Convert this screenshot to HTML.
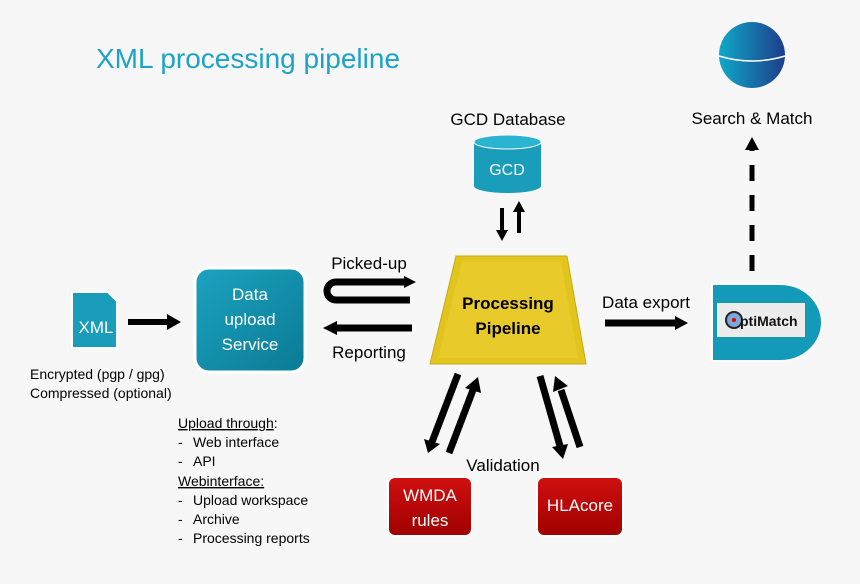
<!DOCTYPE html>
<html><head><style>
html,body{margin:0;padding:0;background:#f7f7f7;}
svg{display:block;font-family:"Liberation Sans",sans-serif;}
</style></head><body>
<svg width="860" height="584" viewBox="0 0 860 584">
<defs>
<linearGradient id="teal" x1="0" y1="0" x2="1" y2="1"><stop offset="0" stop-color="#1ba3c0"/><stop offset="1" stop-color="#0b7a94"/></linearGradient>
<linearGradient id="sph" x1="0" y1="0" x2="1" y2="0"><stop offset="0" stop-color="#10a8c8"/><stop offset="1" stop-color="#1e3d8a"/></linearGradient>
<linearGradient id="red" x1="0" y1="0" x2="0" y2="1"><stop offset="0" stop-color="#d01010"/><stop offset="1" stop-color="#a00000"/></linearGradient>
</defs>
<rect width="860" height="584" fill="#f7f7f7"/>
<text x="96" y="68" font-size="28" fill="#1ea3c6">XML processing pipeline</text>

<!-- GCD -->
<text x="508" y="125" font-size="17" text-anchor="middle">GCD Database</text>
<path d="M474,142 v44 a33.5,7 0 0 0 67,0 v-44" fill="#1a9cbb"/>
<ellipse cx="507.5" cy="142" rx="33.5" ry="7" fill="#2bb3d2" stroke="#fff" stroke-width="1"/>
<text x="507" y="175" font-size="16" fill="#fff" text-anchor="middle">GCD</text>
<line x1="502" y1="208" x2="502" y2="232" stroke="#000" stroke-width="4"/>
<path d="M496,230 l6,11 l6,-11 z" fill="#000"/>
<line x1="519" y1="233" x2="519" y2="210" stroke="#000" stroke-width="4"/>
<path d="M513,212 l6,-11 l6,11 z" fill="#000"/>

<!-- XML doc -->
<path d="M72,292 h36 l9,9 v47 h-45 z" fill="#1a9cbb" stroke="#fff" stroke-width="2"/>
<text x="96" y="333" font-size="17" fill="#fff" text-anchor="middle">XML</text>
<text x="30" y="379" font-size="14">Encrypted (pgp / gpg)</text>
<text x="30" y="398" font-size="14">Compressed (optional)</text>
<line x1="128" y1="322" x2="168" y2="322" stroke="#000" stroke-width="6"/>
<path d="M167,314 l14,8 l-14,8 z" fill="#000"/>

<!-- Data upload -->
<rect x="195" y="268" width="110" height="104" rx="14" fill="url(#teal)" stroke="#fff" stroke-width="3"/>
<text x="250" y="300" font-size="17" fill="#fff" text-anchor="middle">Data</text>
<text x="250" y="325" font-size="17" fill="#fff" text-anchor="middle">upload</text>
<text x="250" y="350" font-size="17" fill="#fff" text-anchor="middle">Service</text>

<!-- notes -->
<g font-size="14">
<text x="178" y="428"><tspan text-decoration="underline">Upload through</tspan>:</text>
<text x="178" y="447">-</text><text x="193" y="447">Web interface</text>
<text x="178" y="466">-</text><text x="193" y="466">API</text>
<text x="178" y="486" text-decoration="underline">Webinterface:</text>
<text x="178" y="505">-</text><text x="193" y="505">Upload workspace</text>
<text x="178" y="524">-</text><text x="193" y="524">Archive</text>
<text x="178" y="543">-</text><text x="193" y="543">Processing reports</text>
</g>

<!-- pickup/report -->
<text x="369" y="269" font-size="17" text-anchor="middle">Picked-up</text>
<path d="M410,300 H336 a9,9 0 0 1 0,-18 H404" fill="none" stroke="#000" stroke-width="7"/>
<path d="M404,276 l12,6 l-12,6 z" fill="#000"/>
<line x1="412" y1="328" x2="336" y2="328" stroke="#000" stroke-width="7"/>
<path d="M337,321 l-14,7 l14,7 z" fill="#000"/>
<text x="369" y="358" font-size="17" text-anchor="middle">Reporting</text>

<!-- Processing -->
<path d="M456,256 H567 L586,364 H430 z" fill="#e2c41e" stroke="#c8aa10" stroke-width="1"/>
<path d="M462,262 H561 L578,358 H438 z" fill="#e8ca2a"/>
<text x="508" y="309" font-size="17" font-weight="bold" text-anchor="middle">Processing</text>
<text x="508" y="334" font-size="17" font-weight="bold" text-anchor="middle">Pipeline</text>

<!-- export -->
<text x="646" y="308" font-size="17" text-anchor="middle">Data export</text>
<line x1="605" y1="323" x2="676" y2="323" stroke="#000" stroke-width="7"/>
<path d="M675,316 l13,7 l-13,7 z" fill="#000"/>

<!-- OptiMatch -->
<path d="M712,284 H780 a42,38.5 0 0 1 0,77 H712 z" fill="#139ab8" stroke="#fff" stroke-width="2"/>
<rect x="717" y="303" width="88" height="34" fill="#ececec"/>
<circle cx="734" cy="320" r="8" fill="#7fa6da" stroke="#222" stroke-width="2"/>
<circle cx="734" cy="320" r="2" fill="#d00"/>
<text x="740" y="326" font-size="14" font-weight="bold" fill="#111">ptiMatch</text>

<!-- dashed -->
<line x1="752" y1="271" x2="752" y2="150" stroke="#000" stroke-width="5" stroke-dasharray="16,14"/>
<path d="M745,150 l7,-13 l7,13 z" fill="#000"/>
<circle cx="752" cy="55" r="33" fill="url(#sph)"/>
<path d="M719,56 Q752,66 785,56" fill="none" stroke="#fff" stroke-width="1.5"/>
<text x="752" y="124" font-size="17" text-anchor="middle">Search &amp; Match</text>

<!-- validation arrows -->
<g stroke="#000" stroke-width="7" fill="none">
<line x1="458" y1="374" x2="432" y2="442"/>
<line x1="449" y1="453" x2="473" y2="390"/>
<line x1="540" y1="376" x2="560" y2="446"/>
<line x1="580" y1="447" x2="561" y2="390"/>
</g>
<path d="M424,439 l4,14 l12,-9 z" fill="#000"/>
<path d="M465,388 l13,-11 l3,16 z" fill="#000"/>
<path d="M552,447 l11,12 l5,-15 z" fill="#000"/>
<path d="M553,392 l2,-16 l13,10 z" fill="#000"/>
<text x="503" y="471" font-size="17" text-anchor="middle">Validation</text>

<rect x="388" y="477" width="84" height="59" rx="7" fill="url(#red)" stroke="#fff" stroke-width="2"/>
<text x="430" y="501" font-size="17" fill="#fff" text-anchor="middle">WMDA</text>
<text x="430" y="526" font-size="17" fill="#fff" text-anchor="middle">rules</text>
<rect x="537" y="477" width="86" height="59" rx="7" fill="url(#red)" stroke="#fff" stroke-width="2"/>
<text x="580" y="511" font-size="17" fill="#fff" text-anchor="middle">HLAcore</text>
</svg>
</body></html>
